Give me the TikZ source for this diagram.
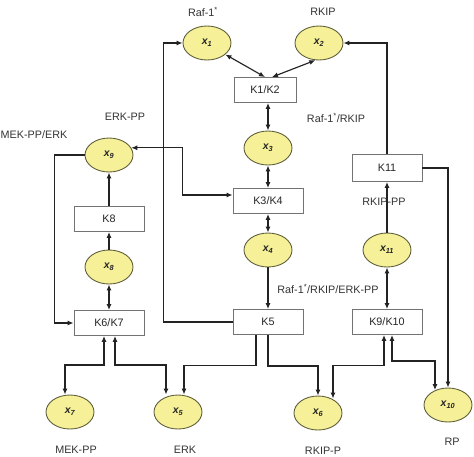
\documentclass[tikz,border=0pt]{standalone}
\usepackage{fontspec}
\setmainfont{Liberation Sans}
\usetikzlibrary{shapes.geometric,arrows.meta,calc}
\definecolor{ellfill}{RGB}{246,241,152}
\definecolor{elldraw}{RGB}{95,95,60}
\definecolor{boxdraw}{RGB}{115,115,115}
\definecolor{linecol}{RGB}{35,35,35}
\begin{document}
\begin{tikzpicture}[x=1pt,y=-1pt,
  ell/.style={ellipse,draw=elldraw,line width=0.9pt,fill=ellfill,minimum width=48pt,minimum height=34pt,inner sep=0pt,font=\fontsize{10.5}{11}\selectfont\bfseries\itshape,text=black!85},
  kbox/.style={rectangle,draw=boxdraw,line width=0.9pt,fill=white,minimum width=70pt,minimum height=25pt,inner sep=0pt,font=\fontsize{10.8}{12}\selectfont,text=black!85},
  lab/.style={font=\fontsize{10.8}{12}\selectfont,inner sep=0pt,text=black!80},
  arr/.style={draw=linecol,line width=1.15pt,-{Latex[length=6pt,width=5pt]}},
  arrb/.style={draw=linecol,line width=1.15pt,{Latex[length=6pt,width=5pt]}-{Latex[length=6pt,width=5pt]}}]
\useasboundingbox (0,0) rectangle (474,456);
% ellipses
\node[ell] (x1) at (207,43) {x\textsubscript{1}};
\node[ell] (x2) at (319,43) {x\textsubscript{2}};
\node[ell] (x3) at (268,148) {x\textsubscript{3}};
\node[ell] (x4) at (268,250) {x\textsubscript{4}};
\node[ell] (x5) at (178,412) {x\textsubscript{5}};
\node[ell] (x6) at (318,413) {x\textsubscript{6}};
\node[ell] (x7) at (70,412) {x\textsubscript{7}};
\node[ell] (x8) at (109,267) {x\textsubscript{8}};
\node[ell] (x9) at (109,155) {x\textsubscript{9}};
\node[ell] (x10) at (448,405) {x\textsubscript{10}};
\node[ell] (x11) at (387,250) {x\textsubscript{11}};
% boxes
\node[kbox,minimum width=62pt] (K12) at (265,90) {K1/K2};
\node[kbox] (K34) at (268,201) {K3/K4};
\node[kbox] (K5) at (268,322) {K5};
\node[kbox] (K67) at (109,323) {K6/K7};
\node[kbox] (K8) at (109,219) {K8};
\node[kbox] (K910) at (387,322) {K9/K10};
\node[kbox,minimum height=27pt] (K11) at (387,168) {K11};
% labels
\node[lab] (l1) at (203,12) {Raf-1\textsuperscript{*}};
\node[lab] (l2) at (323,12) {RKIP};
\node[lab] (l3) at (336,118) {Raf-1\textsuperscript{*}/RKIP};
\node[lab] (l4) at (125,117) {ERK-PP};
\node[lab,anchor=west] (l5) at (0.5,135) {MEK-PP/ERK};
\node[lab] (l6) at (384,202) {RKIP-PP};
\node[lab] (l7) at (328,289) {Raf-1\textsuperscript{*}/RKIP/ERK-PP};
\node[lab] (l8) at (76,450) {MEK-PP};
\node[lab] (l9) at (185,450) {ERK};
\node[lab] (l10) at (323,451) {RKIP-P};
\node[lab] (l11) at (452,442) {RP};
% connectors
\draw[arrb] (x1.-32) -- ($(K12.north)+(0,0)$);
\draw[arrb] (x2.258) -- ($(K12.north)+(7,0)$);
\draw[arrb] ($(K12.south)+(3,0)$) -- (x3.north);
\draw[arrb] (x3.south) -- (K34.north);
\draw[arrb] (K34.south) -- (x4.north);
\draw[arr] (x4.south) -- (K5.north);
\draw[arr] (K5.west) -- ++(-69,0) |- (x1.west);
\draw[arrb] (x9.18) -| ($(K34.west)+(-50,-6)$) -- ($(K34.west)+(0,-6)$);
\draw[arr] (x9.west) -- ++(-30,0) |- (K67.west);
\draw[arr] (K8.north) -- (x9.south);
\draw[arr] (x8.north) -- (K8.south);
\draw[arrb] (x8.south) -- (K67.north);
\draw[arrb] ($(K67.south)+(-5,0)$) -- ++(0,29) -| ($(x7.north)+(-5,0)$);
\draw[arrb] ($(K67.south)+(6,0)$) -- ++(0,29) -| ($(x5.north)+(-12,0)$);
\draw[arr] ($(K5.south)+(-12,0)$) -- ++(0,30.5) -| ($(x5.north)+(6,0)$);
\draw[arr] (K5.south) -- ++(0,31) -| (x6.north);
\draw[arrb] ($(K910.south)+(-3,0)$) -- ++(0,30.5) -| ($(x6.north)+(15,3)$);
\draw[arrb] ($(K910.south)+(5,0)$) -- ++(0,26) -| ($(x10.north)+(-13,2.5)$);
\draw[arrb] (K910.north) -- (x11.south);
\draw[arr] (x11.north) -- (K11.south);
\draw[arr] (K11.north) |- (x2.east);
\draw[arr] (K11.east) -| (x10.north);
\end{tikzpicture}
\end{document}
